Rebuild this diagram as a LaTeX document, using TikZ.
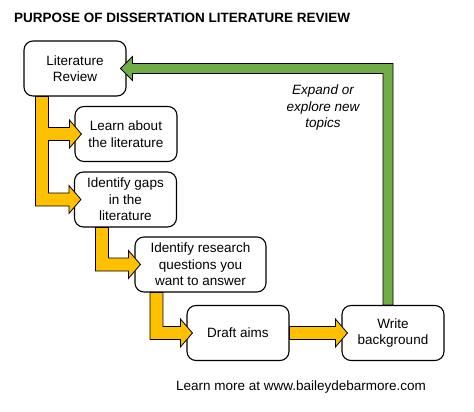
\documentclass[tikz,border=0pt]{standalone}
\usepackage{fontspec}
\setmainfont{Liberation Sans}
\usetikzlibrary{calc}
\definecolor{gold}{RGB}{255,192,0}
\definecolor{leaf}{RGB}{112,173,71}
\tikzset{
  box/.style={draw, line width=1.1pt, rounded corners=9pt, fill=white,
    minimum width=102pt, minimum height=55pt, inner sep=2pt, align=center},
  yarrow/.style={draw, fill=gold, line width=0.8pt, line join=miter},
  garrow/.style={draw, fill=leaf, line width=0.8pt, line join=miter},
}
% bent yellow arrow: start point, tip point
\newcommand{\elbowarrow}[2]{%
  \draw[yarrow] ($(#1)+(-6.5,0)$) |- ($(#2)+(-12,-6.5)$) -- ++(0,-7.5) -- (#2)
    -- ($(#2)+(-12,14)$) -- ++(0,-7.5) -| ($(#1)+(6.5,0)$) -- cycle;}
\begin{document}
\begin{tikzpicture}[x=1pt, y=1pt, font=\fontsize{13.5}{16.5}\selectfont]
    \useasboundingbox (0,0) rectangle (474,-412);

    % title and footer
    \node [anchor=base west, font=\fontsize{13.5}{16.5}\selectfont\bfseries, inner sep=0]
      (title) at (14,-23) {PURPOSE OF DISSERTATION LITERATURE REVIEW};
    \node [anchor=base, inner sep=0] (more) at (301,-390) {Learn more at www.baileydebarmore.com};

    % steps
    \node [box] (lit) at (75,-68.5) {Literature\\Review};
    \node [box] (learn) at (126,-134) {Learn about\\the literature};
    \node [box] (gaps) at (125.5,-199.5) {Identify gaps\\in the\\literature};
    \node [box, minimum width=131pt] (quest) at (200.5,-264.5) {Identify research\\questions you\\want to answer};
    \node [box] (aims) at (238,-333) {Draft aims};
    \node [box] (bg) at (393,-333) {Write\\background};

    % arrow ends
    \coordinate (t1) at ($(lit.south west)+(18.5,0)$);
    \coordinate (tl) at ($(learn.west)+(7,0)$);
    \coordinate (tg) at ($(gaps.west)+(7,0)$);
    \coordinate (tb) at ($(bg.west)+(6,0)$);
    \coordinate (gs) at ($(bg.north)+(-5,0)$);
    \coordinate (tr) at ($(lit.east)+(-6,0)$);

    % yellow arrows
    \draw [yarrow] ($(t1)+(-6.5,0)$) |- ($(tg)+(-12,-6.5)$) -- ++(0,-7.5) -- (tg)
      -- ($(tg)+(-12,14)$) -- ++(0,-7.5) -| ($(t1 |- tl)+(6.5,-6.5)$)
      -- ($(tl)+(-12,-6.5)$) -- ++(0,-7.5) -- (tl) -- ($(tl)+(-12,14)$) -- ++(0,-7.5)
      -| ($(t1)+(6.5,0)$) -- cycle;
    \elbowarrow{$(gaps.south west)+(28,0)$}{$(quest.west)+(6,0)$}
    \elbowarrow{$(quest.south west)+(22,0)$}{$(aims.west)+(6,0)$}
    \draw [yarrow] ($(aims.east)+(0,-6.5)$) -- ($(tb)+(-12,-6.5)$) -- ++(0,-7.5) -- (tb)
      -- ($(tb)+(-12,14)$) -- ++(0,-7.5) -- ($(aims.east)+(0,6.5)$) -- cycle;

    % green arrow back
    \draw [garrow] ($(gs)+(5,0)$) |- ($(tr)+(12,5)$) -- ++(0,7) -- (tr)
      -- ($(tr)+(12,-12)$) -- ++(0,7) -| ($(gs)+(-5,0)$) -- cycle;
    \node [align=center, font=\fontsize{13.5}{16.5}\selectfont\itshape] (expand) at (323,-108)
      {Expand or\\explore new\\topics};
\end{tikzpicture}
\end{document}
